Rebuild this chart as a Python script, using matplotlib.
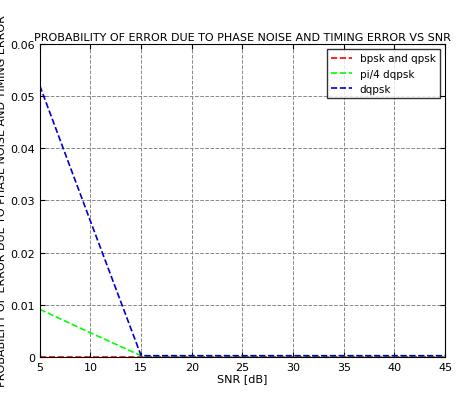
import matplotlib
matplotlib.use("Agg")
import matplotlib.pyplot as plt

snr = [5, 10, 15, 20, 25, 30, 35, 40, 45]
bpsk_qpsk = [0, 0, 0, 0, 0, 0, 0, 0, 0]
pi4_dqpsk = [0.0091, 0.0046, 0.0002, 0.0002, 0.0002, 0.0002, 0.0002, 0.0002, 0.0002]
dqpsk = [0.052, 0.026, 0.0002, 0.0002, 0.0002, 0.0002, 0.0002, 0.0002, 0.0002]

fig = plt.figure(figsize=(4.74, 4.02), dpi=100)
ax = fig.add_axes([0.084, 0.11, 0.855, 0.778])
ax.plot(snr, bpsk_qpsk, 'r--', lw=1.2, label='bpsk and qpsk')
ax.plot(snr, pi4_dqpsk, '--', color='#00ff00', lw=1.2, label='pi/4 dqpsk')
ax.plot(snr, dqpsk, '--', color='#0000cc', lw=1.2, label='dqpsk')
ax.set_xlim(5, 45)
ax.set_ylim(0, 0.06)
ax.set_xticks(range(5, 46, 5))
ax.set_yticks([0, 0.01, 0.02, 0.03, 0.04, 0.05, 0.06])
ax.set_yticklabels(['0', '0.01', '0.02', '0.03', '0.04', '0.05', '0.06'])
ax.grid(True, linestyle='--', color='#888888', lw=0.7)
ax.tick_params(labelsize=8, direction='in', top=True, right=True)
ax.set_xlabel('SNR [dB]', fontsize=8, labelpad=1)
ax.set_ylabel('PROBABILITY OF ERROR DUE TO PHASE NOISE AND TIMING ERROR', fontsize=8, labelpad=2)
ax.set_title('PROBABILITY OF ERROR DUE TO PHASE NOISE AND TIMING ERROR VS SNR', fontsize=8, pad=3)
ax.legend(loc='upper right', fontsize=7.5, frameon=True, fancybox=False, edgecolor='black')
fig.savefig('out.png', dpi=100)
